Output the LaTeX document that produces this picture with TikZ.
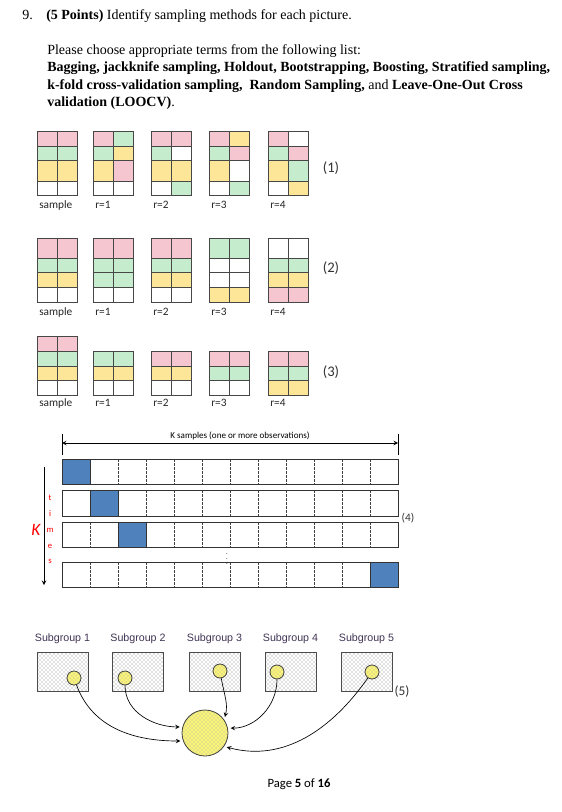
\documentclass[tikz,border=0pt]{standalone}
\usepackage{fontspec}
\setmainfont{Liberation Serif}
\newfontfamily\calibri{Carlito}
\newfontfamily\arialfont{Liberation Sans}
\usepackage{xcolor}
\usetikzlibrary{arrows, positioning, patterns}
\definecolor{pk}{RGB}{246,198,208}
\definecolor{gn}{RGB}{198,236,206}
\definecolor{yl}{RGB}{254,230,153}
\colorlet{wt}{white}
\definecolor{foldblue}{RGB}{79,129,189}
\definecolor{dotyellow}{RGB}{250,244,120}
\definecolor{subtext}{RGB}{64,52,84}
\tikzstyle{arrow} = [line width=0.5pt,->,>=stealth]
\tikzstyle{line} = [line width=0.6pt,-]

% one sample table: #1 left x, #2 rows as ytop/ybottom/left/right
\newcommand{\sampletable}[2]{%
  \foreach \ya/\yb/\cl/\cr in {#2} {%
    \draw[cell,fill=\cl] (#1,\ya) rectangle (#1+20,\yb);
    \draw[cell,fill=\cr] (#1+20,\ya) rectangle (#1+40,\yb);
  }}

\begin{document}
\begin{tikzpicture}[
    x=0.75pt, y=-0.75pt,
    cell/.style={draw=black!72, line width=0.75pt},
    tablelabel/.style={font=\calibri\fontsize{8.5}{10}\selectfont, text=black!85, anchor=west, inner sep=0pt},
    tag/.style={font=\calibri\fontsize{11}{13}\selectfont, text=black!80, inner sep=0pt},
    question/.style={anchor=base west, inner sep=0pt, font=\fontsize{10.5}{12.6}\selectfont},
    foldcell/.style={draw=black!80, line width=0.6pt},
    foldline/.style={draw=black!75, line width=0.5pt, dash pattern=on 2pt off 1pt},
    timesletter/.style={font=\calibri\fontsize{6.5}{8}\selectfont, text=red, inner sep=0pt},
    subbox/.style={rectangle, draw=black!70, line width=0.6pt, minimum width=38.25pt, minimum height=29.25pt, preaction={fill=white}, pattern=crosshatch dots, pattern color=black!50},
    sublabel/.style={font=\arialfont\fontsize{8}{9}\selectfont, text=subtext, inner sep=1pt},
    point/.style={circle, draw=black!75, line width=0.6pt, minimum size=10.5pt, inner sep=0pt, preaction={fill=dotyellow}, pattern=crosshatch dots, pattern color=black!35},
    pool/.style={point, minimum size=34.5pt}
]
    \fill[white] (0,0) rectangle (561,812);
    \useasboundingbox (0,0) rectangle (561,812);

    % question text
    \node[question] (qnum) at (22,20) {9.};
    \node[question] (qhead) at (46,20) {\textbf{(5 Points)} Identify sampling methods for each picture.};
    \node[question] (qline1) at (47,55) {Please choose appropriate terms from the following list:};
    \node[question] (qline2) at (47,72) {\textbf{Bagging, jackknife sampling, Holdout, Bootstrapping, Boosting, Stratified sampling,}};
    \node[question] (qline3) at (47,90) {\textbf{k-fold cross-validation sampling,\ \ Random Sampling,} and \textbf{Leave-One-Out Cross}};
    \node[question] (qline4) at (47,107) {\textbf{validation (LOOCV)}.};

    % picture (1)
    \sampletable{37}{132/147/pk/pk, 147/161/gn/gn, 161/182/yl/yl, 182/196/wt/wt}
    \sampletable{93}{132/147/pk/gn, 147/161/gn/yl, 161/182/yl/pk, 182/196/wt/wt}
    \sampletable{151}{132/147/pk/pk, 147/161/gn/wt, 161/182/yl/yl, 182/196/wt/gn}
    \sampletable{209}{132/147/pk/yl, 147/161/gn/pk, 161/182/yl/wt, 182/196/wt/gn}
    \sampletable{268}{132/147/pk/wt, 147/161/gn/pk, 161/182/yl/gn, 182/196/wt/yl}
    \foreach \gx/\txt [count=\i] in {37/sample, 93/r=1, 151/r=2, 209/r=3, 268/r=4}
        \node[tablelabel] (a\i) at (\gx+2,205) {\txt};
    \node[tag] (tag1) at (331,168) {(1)};

    % picture (2)
    \sampletable{37}{239/259/pk/pk, 259/273/gn/gn, 273/288/yl/yl, 288/303/wt/wt}
    \sampletable{93}{239/259/pk/pk, 259/273/gn/gn, 273/288/gn/gn, 288/303/wt/wt}
    \sampletable{151}{239/259/pk/pk, 259/273/gn/gn, 273/288/yl/yl, 288/303/wt/wt}
    \sampletable{209}{239/259/gn/gn, 259/273/wt/wt, 273/288/wt/wt, 288/303/yl/yl}
    \sampletable{268}{239/259/wt/wt, 259/273/gn/gn, 273/288/yl/yl, 288/303/pk/pk}
    \foreach \gx/\txt [count=\i] in {37/sample, 93/r=1, 151/r=2, 209/r=3, 268/r=4}
        \node[tablelabel] (b\i) at (\gx+2,312) {\txt};
    \node[tag] (tag2) at (331,268) {(2)};

    % picture (3)
    \sampletable{37}{336/351/pk/pk, 351/366/gn/gn, 366/380/yl/yl, 380/395/wt/wt}
    \sampletable{93}{351/366/gn/gn, 366/380/yl/yl, 380/395/wt/wt}
    \sampletable{151}{351/366/pk/pk, 366/380/yl/yl, 380/395/wt/wt}
    \sampletable{209}{351/366/pk/pk, 366/380/gn/gn, 380/395/wt/wt}
    \sampletable{268}{351/366/pk/pk, 366/380/gn/gn, 380/395/yl/yl}
    \foreach \gx/\txt [count=\i] in {37/sample, 93/r=1, 151/r=2, 209/r=3, 268/r=4}
        \node[tablelabel] (c\i) at (\gx+2,403) {\txt};
    \node[tag] (tag3) at (331,372) {(3)};

    % picture (4)
    \draw[line] (62,434) -- (62,455);
    \draw[line] (398,434) -- (398,455);
    \coordinate (kleft) at (62,443);
    \coordinate (kright) at (398,443);
    \draw[<->, >=stealth, line width=0.5pt] (kleft) -- (kright);
    \node[font=\calibri\fontsize{6.8}{8}\selectfont, inner sep=0pt] (ksamples) at (240,436) {K samples (one or more observations)};
    \foreach \ya/\yb/\b in {459/484/0, 490/516/1, 522/547/2, 562/587/11} {
        \foreach \k in {1,...,11}
            \draw[foldline] (62+28*\k,\ya) -- (62+28*\k,\yb);
        \draw[foldcell, fill=foldblue] (62+28*\b,\ya) rectangle (90+28*\b,\yb);
        \draw[foldcell] (62,\ya) rectangle (398,\yb);
    }
    \node[font=\calibri\fontsize{5}{5}\selectfont, inner sep=0pt] (vdots) at (227,555) {\vdots};
    \coordinate (ttop) at (44,467);
    \coordinate (tbot) at (44,585);
    \draw[arrow] (ttop) -- (tbot);
    \foreach \ch/\ty in {t/498, i/514, m/530, e/546, s/561}
        \node[timesletter] (t-\ch) at (50,\ty) {\ch};
    \node[font=\calibri\itshape\fontsize{13}{15}\selectfont, text=red, inner sep=0pt] (kbig) at (36,530) {K};
    \node[tag, font=\calibri\fontsize{8.5}{10}\selectfont] (tag4) at (408,518) {(4)};

    % picture (5)
    \foreach \bx [count=\i] in {62.5, 138, 214.5, 290.5, 366.5} {
        \node[subbox] (box\i) at (\bx,671.5) {};
        \node[sublabel, above=5pt of box\i] (lab\i) {Subgroup \i};
    }
    \foreach \px/\py [count=\i] in {74/678, 125/678, 220/671, 277/672, 372/672}
        \node[point] (pt\i) at (\px,\py) {};
    \node[pool] (pool) at (205,733) {};
    \draw[arrow, shorten >=2pt] (pt1) to[out=-70, in=180] (pool.200);
    \draw[arrow, shorten >=2pt] (pt2) to[out=-90, in=180] (pool.165);
    \draw[arrow, shorten >=2pt] (pt3) to[out=-80, in=75] (pool.35);
    \draw[arrow, shorten >=2pt] (pt4) to[out=-90, in=0] (pool.12);
    \draw[arrow, shorten >=2pt] (pt5) to[out=-125, in=-15] (pool.-35);
    \node[tag, font=\calibri\fontsize{10}{12}\selectfont] (tag5) at (402,692) {(5)};

    % footer
    \node[font=\calibri\fontsize{9.5}{11}\selectfont, inner sep=0pt] (footer) at (299,784) {Page \textbf{5} of \textbf{16}};
\end{tikzpicture}
\end{document}
